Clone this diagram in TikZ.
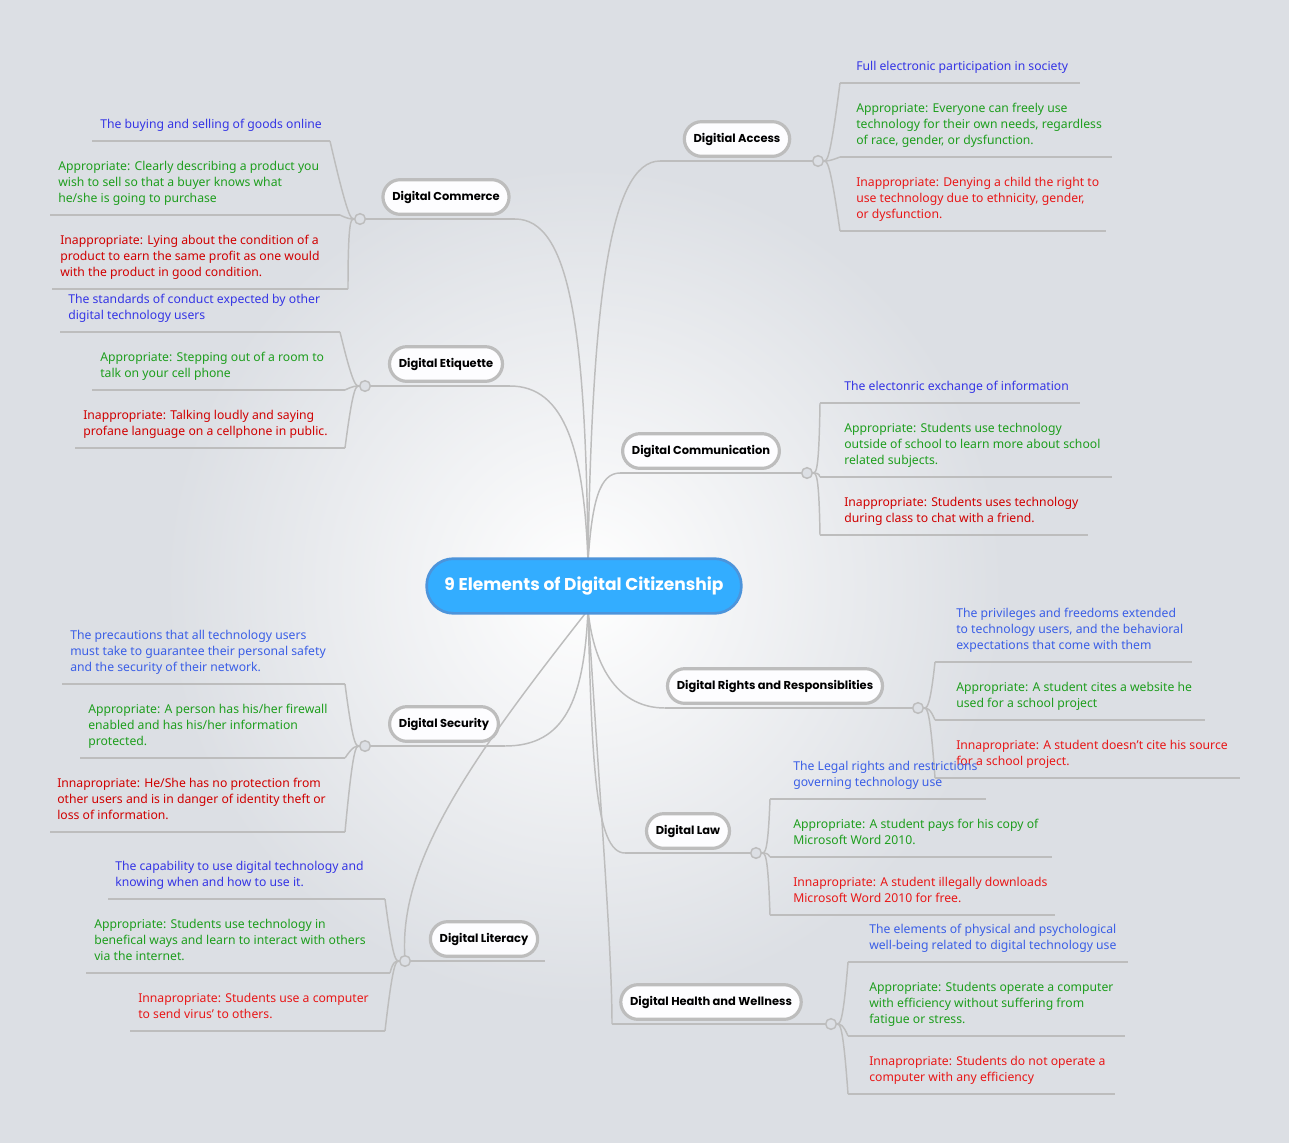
\documentclass[tikz,border=0pt]{standalone}
\usepackage{fontspec}
\setmainfont{Noto Sans}
\newfontfamily\popfont{Poppins}
\usetikzlibrary{shadows,calc}
\definecolor{bg}{HTML}{DCDFE4}
\definecolor{ln}{HTML}{BDBDBD}
\definecolor{cb}{HTML}{3535E4}
\definecolor{cb2}{HTML}{3B5FE6}
\definecolor{cg}{HTML}{1E9E1E}
\definecolor{cr}{HTML}{D00000}
\definecolor{cr2}{HTML}{E81818}
\tikzset{
  conn/.style={draw=ln,line width=1.1pt},
  branchbox/.style={draw=ln,line width=2.4pt,fill=white!92!blue!8,rounded corners=13pt,minimum height=26pt,inner xsep=7pt,font=\popfont\fontsize{8.6}{11}\selectfont\bfseries,drop shadow={shadow xshift=0pt,shadow yshift=-1pt,opacity=0.15}},
  leaftext/.style={anchor=north west,inner sep=0pt,align=left,font=\fontsize{9.15}{12}\selectfont},
  junc/.style={circle,draw=ln,line width=1.1pt,fill=bg,minimum size=8pt,inner sep=0pt},
}
\newcommand{\leafL}[9]{%
  \coordinate (#9a) at (#2,#4); \coordinate (#9b) at (#3,#4);
  \node[leaftext,text=#5] (#9t) at (#6,{#7-4}) {#8};
  \draw[conn] (#9a) -- (#9b);
  \draw[conn] (#9b) .. controls ($(#1)+(-12,0)$ |- #9b) and ($(#1)+(-9,0)$) .. (#1);
}
\newcommand{\leafR}[9]{%
  \coordinate (#9a) at (#2,#4); \coordinate (#9b) at (#3,#4);
  \node[leaftext,text=#5] (#9t) at (#6,{#7-4}) {#8};
  \draw[conn] (#9a) -- (#9b);
  \draw[conn] (#9a) .. controls ($(#1)+(12,0)$ |- #9a) and ($(#1)+(9,0)$) .. (#1);
}
\begin{document}
\begin{tikzpicture}[x=0.75pt,y=-0.75pt]
\useasboundingbox (0,0) rectangle (1289,1143);
\fill[bg] (0,0) rectangle (1289,1143);
\begin{scope}
\clip (0,0) rectangle (1289,1143);
\shade[inner color=white,outer color=bg] (584,586) circle (420);
\end{scope}

\coordinate (ct) at (588,562);
\coordinate (cbm) at (588,610);

% Commerce
\node[branchbox] (com) at (446,197) {Digital Commerce};
\node[junc] (jcom) at (360,219) {};
\coordinate (ucom) at (515,219);
\draw[conn] (jcom) -- (ucom);
\draw[conn] (ct) .. controls (586,330) and (570,219) .. (ucom);
\leafL{jcom}{92}{330}{141}{cb}{100}{123}{The buying and selling of goods online}{la}
\leafL{jcom}{50}{340}{215}{cg}{58}{165}{Appropriate: Clearly describing a product you\\wish to sell so that a buyer knows what\\he/she is going to purchase}{lb}
\leafL{jcom}{52}{348}{289}{cr}{60}{239}{Inappropriate: Lying about the condition of a\\product to earn the same profit as one would\\with the product in good condition.}{lc}

% Etiquette
\node[branchbox] (eti) at (446,364) {Digital Etiquette};
\node[junc] (jeti) at (365,386) {};
\coordinate (ueti) at (510,386);
\draw[conn] (jeti) -- (ueti);
\draw[conn] (ct) .. controls (584,450) and (565,386) .. (ueti);
\leafL{jeti}{60}{340}{332}{cb}{68}{298}{The standards of conduct expected by other\\digital technology users}{ld}
\leafL{jeti}{92}{345}{390}{cg}{100}{356}{Appropriate: Stepping out of a room to\\talk on your cell phone}{le}
\leafL{jeti}{75}{345}{448}{cr}{83}{414}{Inappropriate: Talking loudly and saying\\profane language on a cellphone in public.}{lf}

% Security
\node[branchbox] (sec) at (444,724) {Digital Security};
\node[junc] (jsec) at (365,746) {};
\coordinate (usec) at (505,746);
\draw[conn] (jsec) -- (usec);
\draw[conn] (cbm) .. controls (584,700) and (565,746) .. (usec);
\leafL{jsec}{62}{345}{684}{cb2}{70}{634}{The precautions that all technology users\\must take to guarantee their personal safety\\and the security of their network.}{lg}
\leafL{jsec}{80}{345}{758}{cg}{88}{708}{Appropriate: A person has his/her firewall\\enabled and has his/her information\\protected.}{lh}
\leafL{jsec}{50}{345}{832}{cr}{57}{782}{Innapropriate: He/She has no protection from\\other users and is in danger of identity theft or\\loss of information.}{li}

% Literacy
\node[branchbox] (lit) at (484,939) {Digital Literacy};
\node[junc] (jlit) at (405,961) {};
\coordinate (ulit) at (545,961);
\draw[conn] (jlit) -- (ulit);
\draw[conn] (cbm) .. controls (470,760) and (400,860) .. (jlit);
\leafL{jlit}{108}{385}{899}{cb}{115}{865}{The capability to use digital technology and\\knowing when and how to use it.}{lj}
\leafL{jlit}{86}{390}{973}{cg}{94}{923}{Appropriate: Students use technology in\\benefical ways and learn to interact with others\\via the internet.}{lk}
\leafL{jlit}{130}{385}{1031}{cr2}{138}{997}{Innapropriate: Students use a computer\\to send virus' to others.}{ll}

% Access
\node[branchbox] (acc) at (737,139) {Digitial Access};
\node[junc] (jacc) at (818,161) {};
\coordinate (uacc) at (660,161);
\draw[conn] (uacc) -- (jacc);
\draw[conn] (ct) .. controls (592,300) and (610,161) .. (uacc);
\leafR{jacc}{840}{1080}{83}{cb}{856}{65}{Full electronic participation in society}{ra}
\leafR{jacc}{840}{1112}{157}{cg}{856}{107}{Appropriate: Everyone can freely use\\technology for their own needs, regardless\\of race, gender, or dysfunction.}{rb}
\leafR{jacc}{840}{1106}{231}{cr2}{856}{181}{Inappropriate: Denying a child the right to\\use technology due to ethnicity, gender,\\or dysfunction.}{rc}

% Communication
\node[branchbox] (cmm) at (701,451) {Digital Communication};
\node[junc] (jcmm) at (807,473) {};
\coordinate (ucmm) at (620,473);
\draw[conn] (ucmm) -- (jcmm);
\draw[conn] (ct) .. controls (592,500) and (600,473) .. (ucmm);
\leafR{jcmm}{820}{1080}{403}{cb}{844}{385}{The electonric exchange of information}{rd}
\leafR{jcmm}{820}{1112}{477}{cg}{844}{427}{Appropriate: Students use technology\\outside of school to learn more about school\\related subjects.}{re}
\leafR{jcmm}{820}{1088}{535}{cr}{844}{501}{Inappropriate: Students uses technology\\during class to chat with a friend.}{rf}

% Rights
\node[branchbox] (rig) at (775,686) {Digital Rights and Responsiblities};
\node[junc] (jrig) at (918,708) {};
\coordinate (urig) at (665,708);
\draw[conn] (urig) -- (jrig);
\draw[conn] (cbm) .. controls (594,670) and (620,708) .. (urig);
\leafR{jrig}{935}{1192}{662}{cb2}{956}{612}{The privileges and freedoms extended\\to technology users, and the behavioral\\expectations that come with them}{rg}
\leafR{jrig}{935}{1205}{720}{cg}{956}{686}{Appropriate: A student cites a website he\\used for a school project}{rh}
\leafR{jrig}{935}{1240}{778}{cr2}{956}{744}{Innapropriate: A student doesn't cite his source\\for a school project.}{ri}

% Law
\node[branchbox] (law) at (688,831) {Digital Law};
\node[junc] (jlaw) at (756,853) {};
\coordinate (ulaw) at (625,853);
\draw[conn] (ulaw) -- (jlaw);
\draw[conn] (cbm) .. controls (592,760) and (595,853) .. (ulaw);
\leafR{jlaw}{770}{986}{799}{cb2}{793}{765}{The Legal rights and restrictions\\governing technology use}{rj}
\leafR{jlaw}{770}{1052}{857}{cg}{793}{823}{Appropriate: A student pays for his copy of\\Microsoft Word 2010.}{rk}
\leafR{jlaw}{770}{1055}{915}{cr2}{793}{881}{Innapropriate: A student illegally downloads\\Microsoft Word 2010 for free.}{rl}

% Health
\node[branchbox] (hea) at (711,1002) {Digital Health and Wellness};
\node[junc] (jhea) at (831,1024) {};
\coordinate (uhea) at (612,1024);
\draw[conn] (uhea) -- (jhea);
\draw[conn] (cbm) .. controls (600,800) and (612,950) .. (uhea);
\leafR{jhea}{848}{1128}{962}{cb2}{869}{928}{The elements of physical and psychological\\well-being related to digital technology use}{rm}
\leafR{jhea}{848}{1125}{1036}{cg}{869}{986}{Appropriate: Students operate a computer\\with efficiency without suffering from\\fatigue or stress.}{rn}
\leafR{jhea}{848}{1115}{1094}{cr2}{869}{1060}{Innapropriate: Students do not operate a\\computer with any efficiency}{ro}

\node[draw=blue!50!cyan!80!black!70,fill=blue!40!cyan!80!white,line width=2pt,rounded corners=20pt,minimum width=236pt,minimum height=41pt,text=white,font=\popfont\fontsize{12.8}{16}\selectfont\bfseries] (center) at (584,586) {9 Elements of Digital Citizenship};
\end{tikzpicture}
\end{document}
